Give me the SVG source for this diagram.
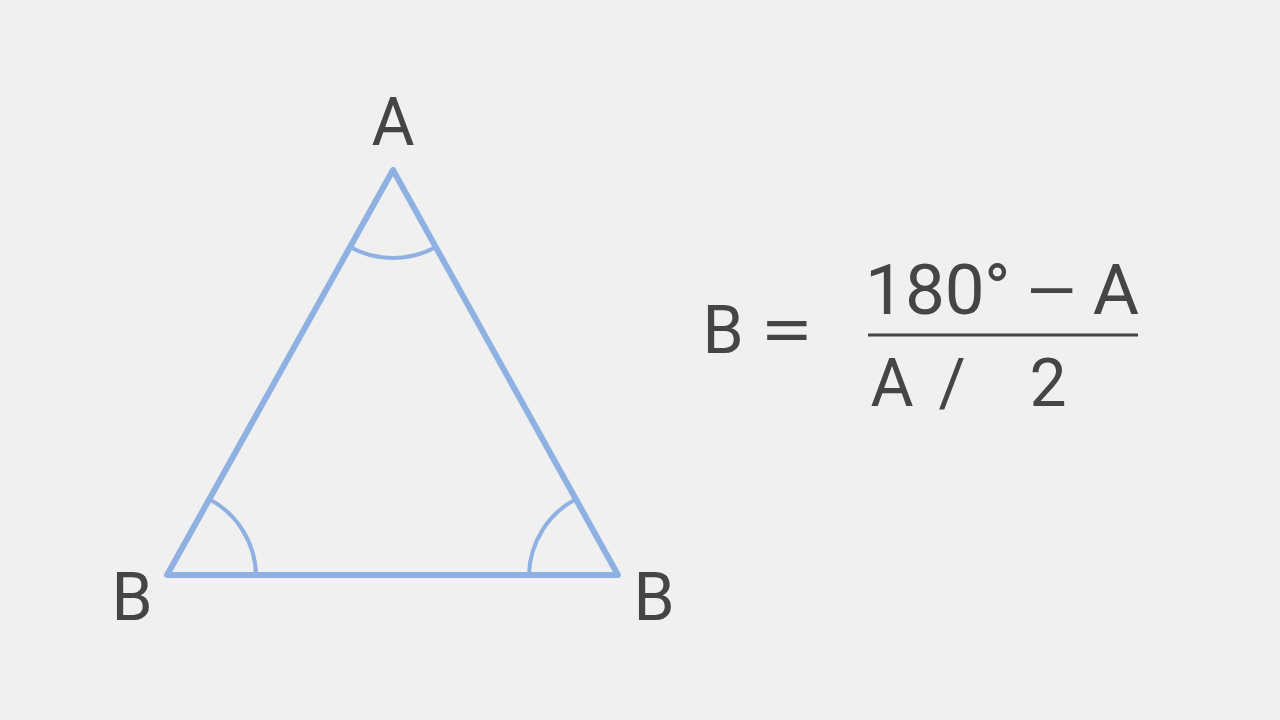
<svg xmlns="http://www.w3.org/2000/svg" width="1280" height="720" viewBox="0 0 1280 720">
<style>
.t{font-family:Roboto,"Liberation Sans",sans-serif;font-size:66px;fill:#454545}
.big{font-size:71px}
.edge{fill:none;stroke:#8fb1e2;stroke-width:6;stroke-linejoin:round;stroke-linecap:round}
.arc{fill:none;stroke:#8fb1e2;stroke-width:4}
</style>
<rect width="1280" height="720" fill="#f0f0f0"/>
<g id="triangle">
<polygon class="edge" points="393,170 167,575 618,575"/>
<path class="arc" d="M350,247 A90,90 0 0 0 436,247"/>
<path class="arc" d="M209,499 A88,88 0 0 1 256,575"/>
<path class="arc" d="M576,499 A88,88 0 0 0 529,575"/>
</g>
<g id="labels">
<text class="t" x="393" y="145" text-anchor="middle">A</text>
<text class="t" x="132" y="620" text-anchor="middle">B</text>
<text class="t" x="654" y="620" text-anchor="middle">B</text>
</g>
<g id="formula">
<text class="t" x="723" y="353" text-anchor="middle">B</text>
<text class="t" x="760" y="353" textLength="53" lengthAdjust="spacingAndGlyphs">=</text>
<text class="t big" x="865" y="314">180</text>
<text class="t big" x="984" y="314">°</text>
<text class="t" x="1023" y="314" textLength="58" lengthAdjust="spacingAndGlyphs">−</text>
<text class="t big" x="1116" y="314" text-anchor="middle">A</text>
<line x1="868" y1="335" x2="1138" y2="335" stroke="#454545" stroke-width="3"/>
<text class="t" x="892" y="406" text-anchor="middle">A</text>
<text class="t" x="952" y="406" text-anchor="middle">/</text>
<text class="t" x="1048" y="406" text-anchor="middle">2</text>
</g>
</svg>
